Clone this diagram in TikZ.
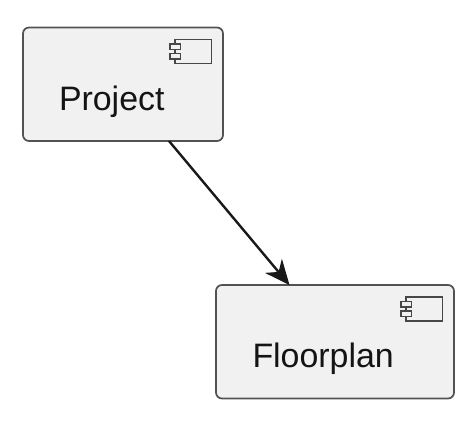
\documentclass[tikz,border=0pt]{standalone}
\usepackage{fontspec}
\setmainfont{Liberation Sans}
\usetikzlibrary{arrows.meta,calc}
\tikzset{
  compbox/.style={draw=black!68,fill=black!5.5,line width=1.7pt,rounded corners=6pt,inner sep=0pt,outer sep=0pt,anchor=north west},
  complabel/.style={anchor=base west,inner sep=0pt,outer sep=0pt,text=black!92,font=\fontsize{33.9}{36}\selectfont},
  iconline/.style={draw=black!72,line width=1.6pt},
  dep/.style={draw=black!90,line width=2.4pt,-{Stealth[length=25pt,width=22pt,inset=8pt,line width=1.2pt]}}
}
\newcommand{\compicon}[2]{%
  \draw[iconline] (#1,#2) rectangle ++(36.5,24);
  \draw[iconline,fill=black!5.5] (#1-5,#2+4.6) rectangle ++(10.3,5.5);
  \draw[iconline,fill=black!5.5] (#1-5,#2+14.3) rectangle ++(10.3,5.5);
}
\begin{document}
\begin{tikzpicture}[x=1pt,y=-1pt]
\useasboundingbox (0,0) rectangle (474,426);
\node[compbox,minimum width=200pt,minimum height=113.5pt] (project) at (23,27.5) {};
\node[compbox,minimum width=238pt,minimum height=113.5pt] (floorplan) at (216,285) {};
\compicon{175}{39.3}
\compicon{406}{296.8}
\node[complabel] (projectlabel) at (59,110) {Project};
\node[complabel] (floorplanlabel) at (252.5,367.7) {Floorplan};
\coordinate (depstart) at ($(project.south west)+(146,0)$);
\coordinate (depend) at ($(floorplan.north west)+(73.5,0)$);
\draw[dep] (depstart) -- (depend);
\end{tikzpicture}
\end{document}
